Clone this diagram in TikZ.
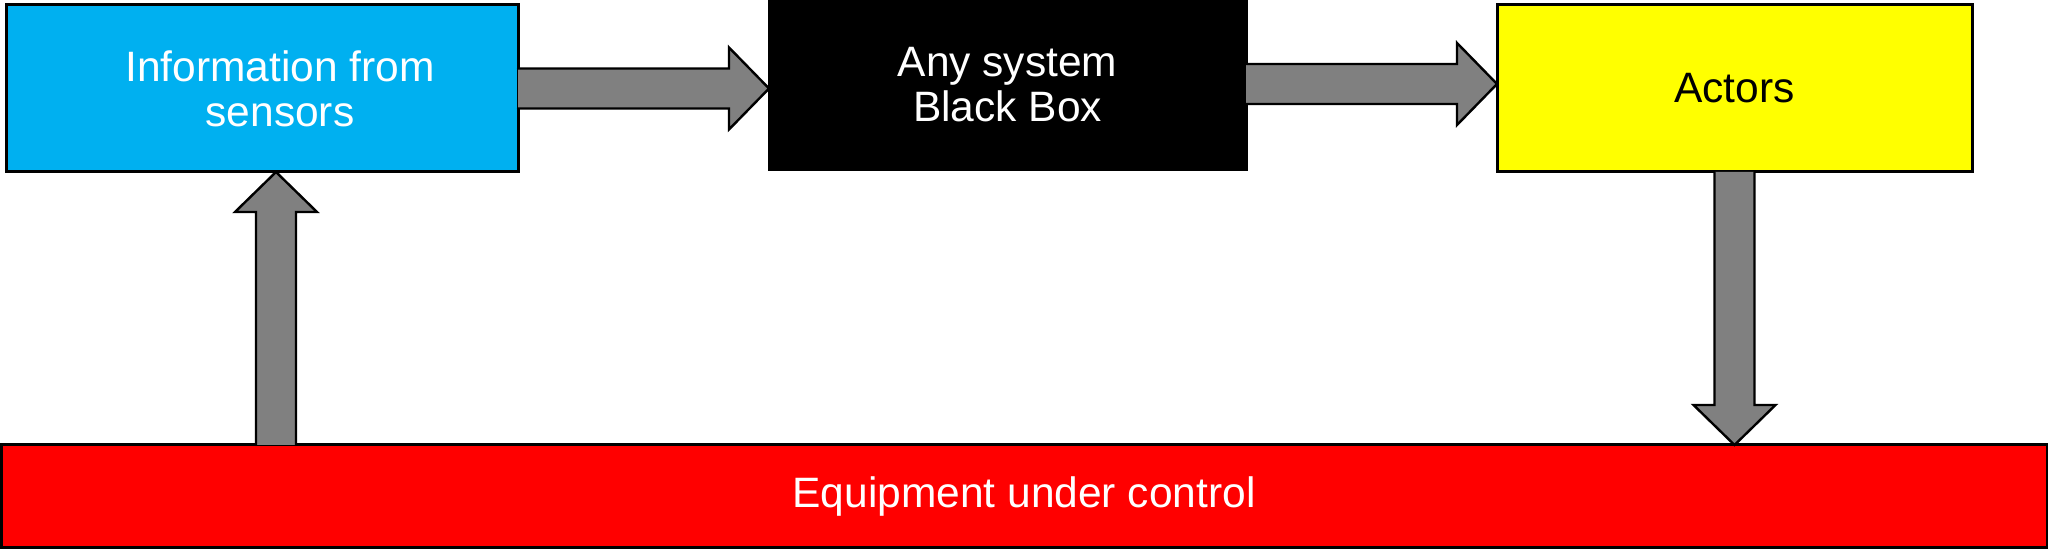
\documentclass[tikz,border=0pt]{standalone}
\usepackage{fontspec}
\setmainfont{Liberation Sans}
\usepackage{xcolor}
\usepackage{tikz}
\usetikzlibrary{calc}
\definecolor{qqbbff}{rgb}{0.,0.69,0.94}
\definecolor{ffffqq}{rgb}{1.,1.,0.}
\definecolor{ffqqqq}{rgb}{1.,0.,0.}
\definecolor{wwwwww}{rgb}{0.5,0.5,0.5}
\tikzstyle{every node}=[font=\fontsize{21.25}{22.5}\selectfont]
\tikzstyle{box}=[draw=black,line width=1.5pt,line join=miter,outer sep=0pt,inner sep=0pt,align=center]
\tikzstyle{blockarrow}=[fill=wwwwww,draw=black,line width=1.2pt,line join=miter]

\begin{document}
\begin{tikzpicture}[line cap=round,line join=round,x=0.5pt,y=0.5pt]
            \useasboundingbox (0,0) rectangle (2048,550);
            \node[box,fill=qqbbff,minimum width=256pt,minimum height=83.5pt,
                  label={[text=white,align=center,xshift=9pt]center:Information from\\sensors}] (info) at (262,461.5) {};
            \node[box,fill=black,text=white,minimum width=238.5pt,minimum height=85pt] (blackbox) at (1007.5,465) {Any system\\Black Box};
            \node[box,fill=ffffqq,text=black,minimum width=237.5pt,minimum height=83.5pt] (actors) at (1734.5,461.5) {Actors};
            \node[box,fill=ffqqqq,text=white,minimum width=1023pt,minimum height=51.5pt] (equip) at (1024,53.5) {Equipment under control};
            % horizontal arrows
            \coordinate (tipa) at (blackbox.west |- info.east);
            \draw[blockarrow] ($(info.east)+(0,20)$) -- ($(tipa)+(-40,20)$) -- ($(tipa)+(-40,41)$) -- (tipa) -- ($(tipa)+(-40,-41)$) -- ($(tipa)+(-40,-20)$) -- ($(info.east)+(0,-20)$);
            \coordinate (tailb) at ($(blackbox.east)+(0,1)$);
            \coordinate (tipb) at (actors.west |- tailb);
            \draw[blockarrow] ($(tailb)+(0,20)$) -- ($(tipb)+(-40,20)$) -- ($(tipb)+(-40,41)$) -- (tipb) -- ($(tipb)+(-40,-41)$) -- ($(tipb)+(-40,-20)$) -- ($(tailb)+(0,-20)$);
            % vertical arrows
            \coordinate (tipc) at (equip.north -| actors.south);
            \draw[blockarrow] ($(actors.south)+(-20,0)$) -- ($(tipc)+(-20,40)$) -- ($(tipc)+(-41,40)$) -- (tipc) -- ($(tipc)+(41,40)$) -- ($(tipc)+(20,40)$) -- ($(actors.south)+(20,0)$);
            \coordinate (tipd) at ($(info.south)+(14,0)$);
            \coordinate (taild) at (equip.north -| tipd);
            \draw[blockarrow] ($(taild)+(-20,0)$) -- ($(tipd)+(-20,-40)$) -- ($(tipd)+(-41,-40)$) -- (tipd) -- ($(tipd)+(41,-40)$) -- ($(tipd)+(20,-40)$) -- ($(taild)+(20,0)$);
\end{tikzpicture}
\end{document}
